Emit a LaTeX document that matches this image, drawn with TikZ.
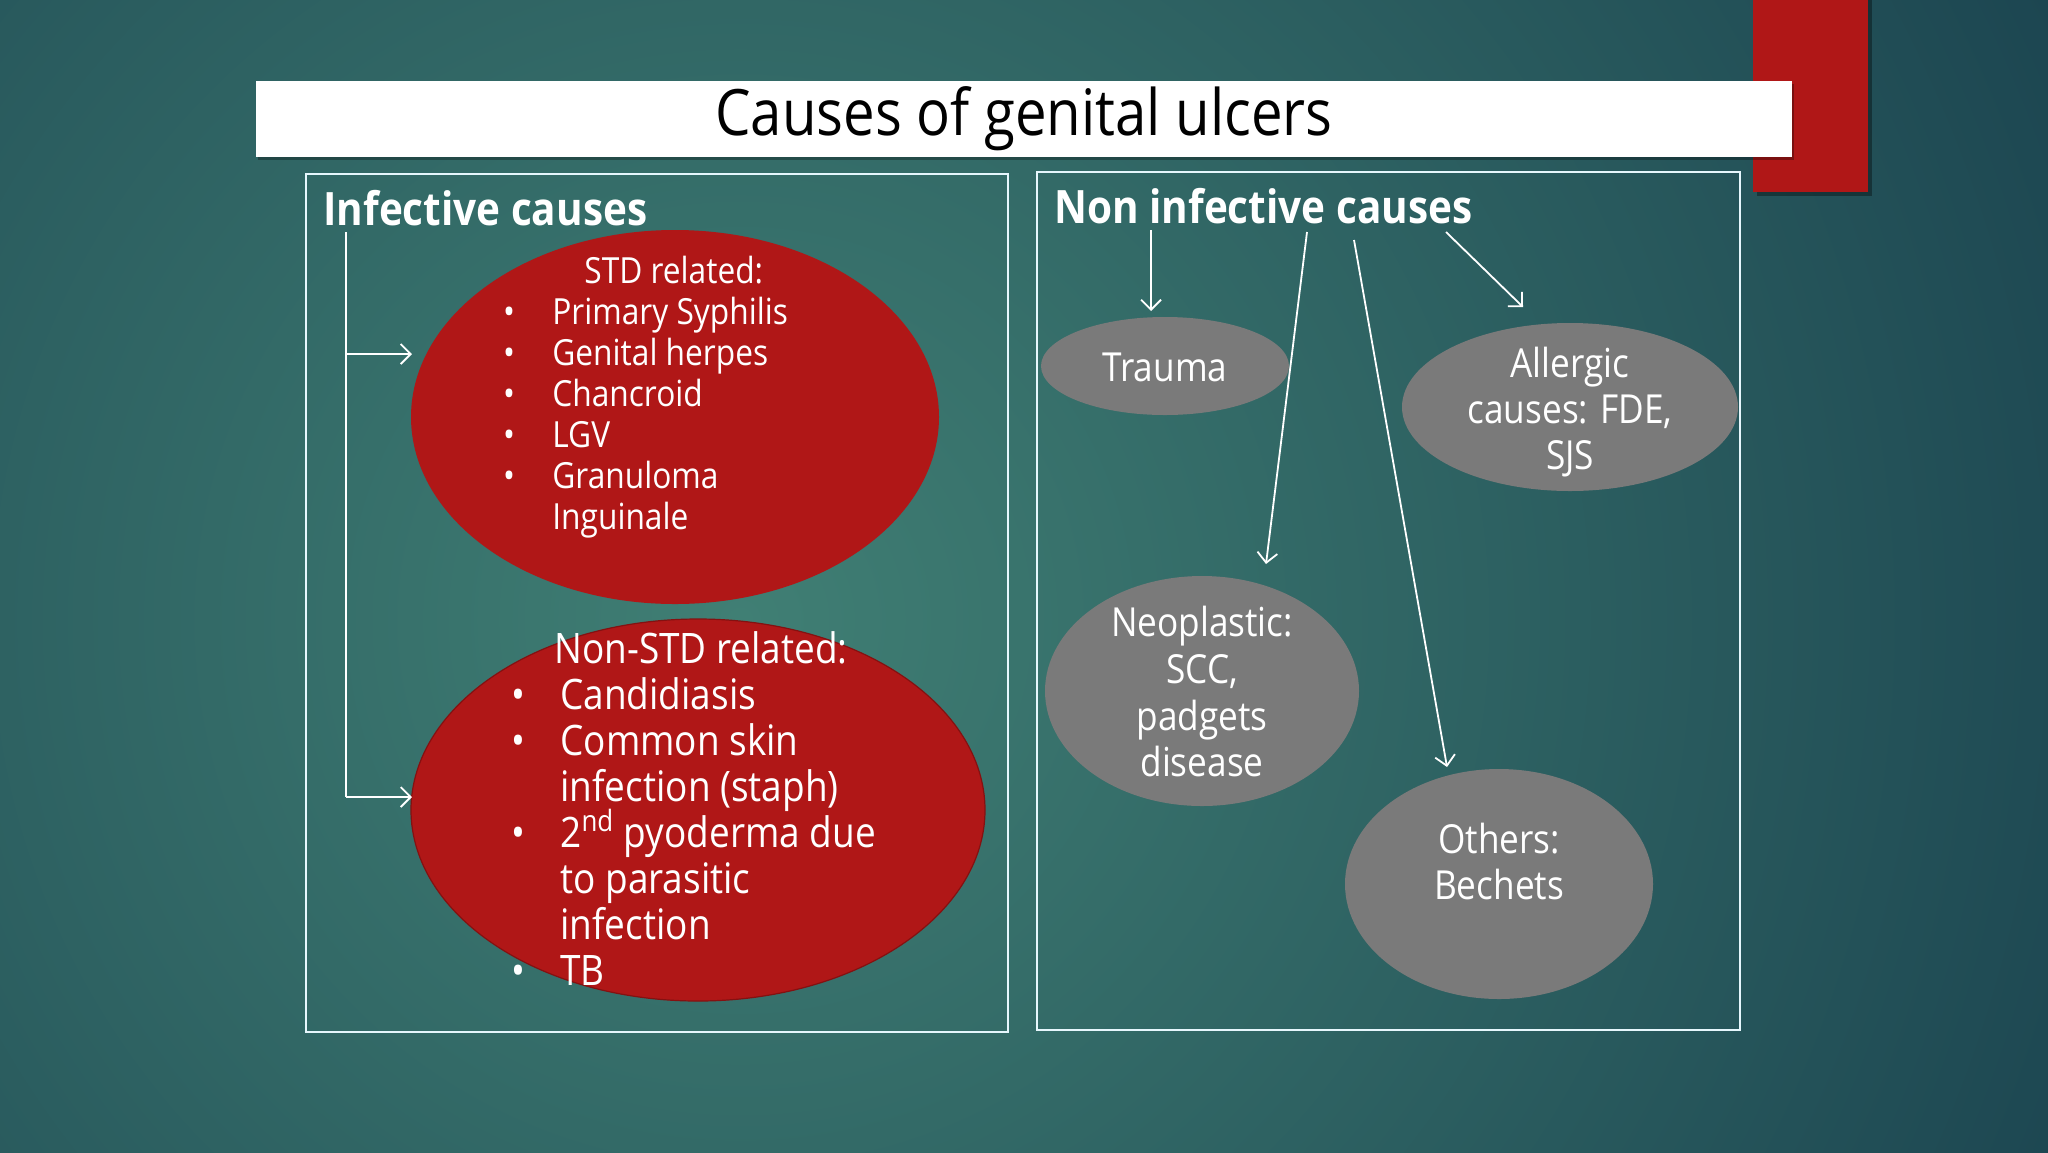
\documentclass[tikz,border=0pt]{standalone}
\usepackage{fontspec}
\setmainfont{Open Sans}[FakeStretch=0.88]
\usetikzlibrary{arrows.meta,shapes.geometric}
\definecolor{bgin}{HTML}{407F74}
\definecolor{bgout}{HTML}{163C4B}
\definecolor{ured}{HTML}{B01717}
\definecolor{ugray}{HTML}{7A7A7A}
\begin{document}
\begin{tikzpicture}[x=0.5pt,y=-0.5pt,
  panel/.style={draw=white!90!cyan,line width=0.8pt},
  conn/.style={draw=white,line width=0.9pt},
  arr/.style={conn,-{Straight Barb[length=5pt,width=10pt]}},
  redell/.style={ellipse,fill=ured,inner sep=0pt},
  grayell/.style={ellipse,fill=ugray,inner sep=0pt},
  ta/.style={text=white,font=\fontsize{18}{22}\selectfont,inner sep=0pt},
  tb/.style={text=white,font=\fontsize{21}{25}\selectfont,inner sep=0pt},
  tg/.style={text=white,font=\fontsize{20}{24}\selectfont,inner sep=0pt,anchor=base},
  head/.style={text=white,font=\bfseries\fontsize{23}{28}\selectfont,inner sep=0pt,anchor=base west}]
\useasboundingbox (0,0) rectangle (2048,1152);
% background
\fill[bgout] (0,0) rectangle (2048,1152);
\begin{scope}
\clip (0,0) rectangle (2048,1152);
\shade[inner color=bgin,outer color=bgout] (740,620) circle[radius=850pt];
\end{scope}
% red tab with shadow
\fill[black,opacity=0.35] (1757,0) rectangle (1872,196);
\fill[ured] (1753,0) rectangle (1868,192);
% title bar
\fill[black,opacity=0.3] (258,84) rectangle (1794,160);
\fill[white] (256,81) rectangle (1792,157);
\node[font=\fontsize{32}{38}\selectfont,anchor=base,inner sep=0pt] (title) at (1024,135) {Causes of genital ulcers};
% panels
\draw[panel] (306,174) rectangle (1008,1032);
\draw[panel] (1037,172) rectangle (1740,1030);
\node[head] (inf) at (323,225) {Infective causes};
\node[head] (noninf) at (1054,223) {Non infective causes};
% red ellipses
\node[redell,minimum width=264pt,minimum height=187pt] (std) at (675,417) {};
\node[redell,draw=ured!75!black,line width=0.6pt,minimum width=287pt,minimum height=191pt] (nstd) at (698,810) {};
% bracket
\coordinate (brtop) at (346,232);
\coordinate (brmid) at (346,354);
\coordinate (brbot) at (346,797);
\coordinate (e1) at (412,354);
\coordinate (e2) at (412,797);
\draw[conn] (brtop) -- (brbot);
\draw[arr] (brmid) -- (e1);
\draw[arr] (brbot) -- (e2);
% STD text
\node[ta,anchor=base west] (stdh) at (584,283) {STD related:};
\foreach \t [count=\i] in {Primary Syphilis,Genital herpes,Chancroid,LGV,Granuloma}{
  \node[ta,anchor=base] (sb\i) at (509,{283+41*\i}) {•};
  \node[ta,anchor=base west] (st\i) at (552,{283+41*\i}) {\t};
}
\node[ta,anchor=base west] (st6) at (552,529) {Inguinale};
% Non-STD text
\node[tb,anchor=base west] (nsh) at (554,663) {Non-STD related:};
\node[tb,anchor=base] (nb1) at (518,709) {•};
\node[tb,anchor=base west] (nt1) at (560,709) {Candidiasis};
\node[tb,anchor=base] (nb2) at (518,755) {•};
\node[tb,anchor=base west] (nt2) at (560,755) {Common skin};
\node[tb,anchor=base west] (nt3) at (560,801) {infection (staph)};
\node[tb,anchor=base] (nb4) at (518,847) {•};
\node[tb,anchor=base west] (nt4) at (560,847) {2\textsuperscript{nd} pyoderma due};
\node[tb,anchor=base west] (nt5) at (560,893) {to parasitic};
\node[tb,anchor=base west] (nt6) at (560,939) {infection};
\node[tb,anchor=base] (nb7) at (518,985) {•};
\node[tb,anchor=base west] (nt7) at (560,985) {TB};
% gray ellipses
\node[grayell,minimum width=124pt,minimum height=49pt] (trauma) at (1165,366) {};
\node[grayell,minimum width=168pt,minimum height=84pt] (allergic) at (1570,407) {};
\node[grayell,minimum width=157pt,minimum height=115pt] (neo) at (1202,691) {};
\node[grayell,minimum width=154pt,minimum height=115pt] (others) at (1499,884) {};
\node[tg] (trt) at (1165,381) {Trauma};
\node[tg] (al1) at (1570,377) {Allergic};
\node[tg] (al2) at (1570,423) {causes: FDE,};
\node[tg] (al3) at (1570,469) {SJS};
\node[tg] (ne1) at (1202,636) {Neoplastic:};
\node[tg] (ne2) at (1202,683) {SCC,};
\node[tg] (ne3) at (1202,730) {padgets};
\node[tg] (ne4) at (1202,776) {disease};
\node[tg] (ot1) at (1499,853) {Others:};
\node[tg] (ot2) at (1499,899) {Bechets};
% arrows from heading
\coordinate (s1) at (1151,230); \coordinate (t1) at (1151,311);
\coordinate (s2) at (1307,232); \coordinate (t2) at (1266,564);
\coordinate (s3) at (1354,240); \coordinate (t3) at (1447,767);
\coordinate (s4) at (1446,232); \coordinate (t4) at (1523,307);
\draw[arr] (s1) -- (t1);
\draw[arr] (s2) -- (t2);
\draw[arr] (s3) -- (t3);
\draw[arr] (s4) -- (t4);
\end{tikzpicture}
\end{document}
